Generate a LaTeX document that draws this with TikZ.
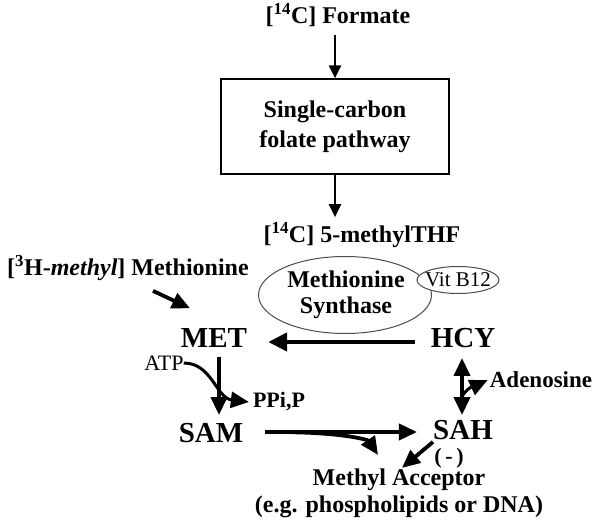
\documentclass[tikz,border=0pt]{standalone}
\usepackage{fontspec}
\setmainfont{Liberation Serif}
\usetikzlibrary{arrows.meta,shapes.geometric,calc}
\begin{document}
\begin{tikzpicture}[x=1pt,y=-1pt,
  lbl/.style={inner sep=0pt, font=\fontsize{24}{29}\selectfont\bfseries, align=center},
  big/.style={inner sep=0pt, font=\fontsize{29}{32}\selectfont\bfseries},
  small/.style={inner sep=0pt, font=\fontsize{22}{24}\selectfont},
  tip/.tip={Triangle[length=18pt,width=16pt]},
  arr/.style={line width=3.8pt, -tip},
  thinarr/.style={line width=2.2pt, -{Triangle[length=13pt,width=12pt]}},
  encl/.style={ellipse, draw=black!70, line width=1pt, inner sep=0pt},
]
\useasboundingbox (0,0) rectangle (600,529);

% nodes
\node[lbl] (formate) at (338,15) {[\textsuperscript{14}C] Formate};
\node[draw, line width=1.3pt, minimum width=228pt, minimum height=95pt, inner sep=0pt,
      font=\fontsize{24}{30}\selectfont\bfseries, align=center] (box) at (335,126.5)
      {Single-carbon\\folate pathway};
\node[lbl] (mthf) at (362,235) {[\textsuperscript{14}C] 5-methylTHF};

\node[encl, minimum width=173pt, minimum height=77pt] (ms) at (345,295) {};
\node[lbl, font=\fontsize{24}{26}\selectfont\bfseries] (msT) at (346,295) {Methionine\\Synthase};
\node[encl, fill=white, minimum width=82pt, minimum height=27pt] (b12) at (458,280) {};
\node[inner sep=0pt, font=\fontsize{21}{24}\selectfont] (b12T) at (b12) {Vit B12};

\node[lbl] (m3) at (128,268) {[\textsuperscript{3}H-\textit{methyl}] Methionine};
\node[big] (met) at (214,338) {MET};
\node[big] (hcy) at (463,338) {HCY};
\node[small] (atp) at (164,363) {ATP};
\node[small, font=\fontsize{22}{24}\selectfont\bfseries] (ppi) at (279,402) {PPi,P};
\node[big] (sam) at (211,433) {SAM};
\node[big] (sah) at (463,430) {SAH};
\node[lbl, font=\fontsize{23}{26}\selectfont\bfseries] (aden) at (541,380) {Adenosine};
\node[lbl, font=\fontsize{22}{24}\selectfont\bfseries] (neg) at (449,458) {(\,-\,)};
\node[lbl] (acc) at (399,480) {Methyl Acceptor};
\node[lbl] (eg) at (399,507) {(e.g. phospholipids or DNA)};

% connectors
\draw[thinarr, shorten <=8pt] (formate.south -| box.north) -- (box.north);
\draw[thinarr, shorten >=5pt] (box.south) -- (box.south |- mthf.north);
\draw[arr] ($(m3.south)+(25,10)$) -- ($(met.north)+(-24,-20)$);
\draw[line width=4.5pt, -{Triangle[length=19pt,width=18pt]}] ($(hcy.west)+(-16,4)$) -- ($(met.east)+(21,4)$);
\draw[arr] ($(met.south)+(5,9)$) -- ($(sam.north)+(8,-8)$);
\draw[arr, line width=3pt] (atp.east) .. controls (212,363) and (216,398) .. ($(ppi.west)+(-4,0)$);
\draw[arr] ($(sam.east)+(22,-1)$) -- ($(sah.west)+(-16,2)$);
\coordinate (br) at ($(sam.east)!0.25!(sah.west)$);
\draw[arr] (br) .. controls (345,433) and (368,440) .. ($(acc.north)+(-21,-14)$);
\draw[arr] ($(sah.south west)+(0,2)$) -- ($(acc.north)+(3,-1)$);
\draw[tip-tip, line width=3.8pt] ($(hcy.south)+(-1,10)$) -- ($(sah.north)+(-1,-5)$);
\coordinate (ad0) at ($(hcy.south)!0.65!(sah.north)$);
\draw[arr, line width=3pt] (ad0) to[out=55,in=205] ($(aden.west)+(-2,0)$);
\end{tikzpicture}
\end{document}
